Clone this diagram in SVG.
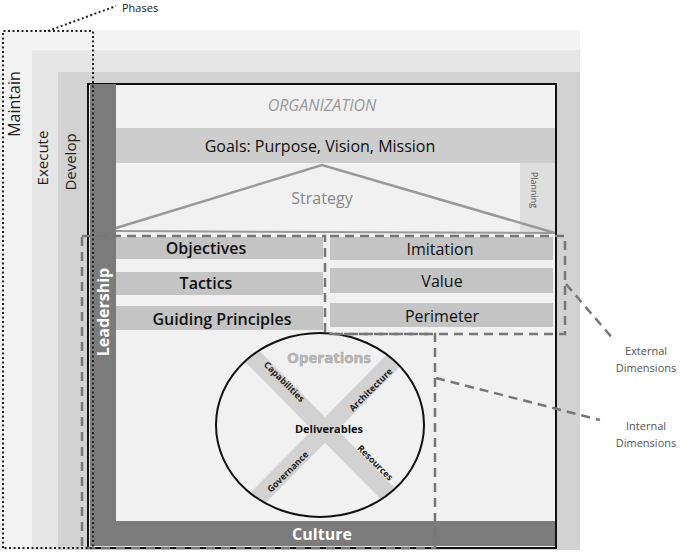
<svg xmlns="http://www.w3.org/2000/svg" width="685" height="552" viewBox="0 0 685 552">
<style>
text{font-family:"Open Sans","Noto Sans",sans-serif}
.box{fill:#c4c4c4}
.bt{font-size:16px;fill:#111;text-anchor:middle}
.dash{fill:none;stroke:#777;stroke-width:2.5;stroke-dasharray:9,6}
.op{font-size:9px;font-weight:bold;fill:#222;text-anchor:middle}
.side{font-size:11px;fill:#555;text-anchor:middle}
</style>
<defs><clipPath id="ec"><ellipse cx="320" cy="425" rx="103" ry="91"/></clipPath></defs>
<rect width="685" height="552" fill="#fff"/>
<g id="maintain"><rect x="0" y="30" width="580" height="520" fill="#f4f4f4"/><text transform="translate(20,104) rotate(-90)" font-size="16" text-anchor="middle" fill="#222">Maintain</text></g>
<g id="execute"><rect x="32" y="50" width="548" height="500" fill="#e6e6e6"/><text transform="translate(48,158) rotate(-90)" font-size="15" text-anchor="middle" fill="#222">Execute</text></g>
<g id="develop"><rect x="58" y="72" width="522" height="478" fill="#d2d2d2"/><text transform="translate(76,162) rotate(-90)" font-size="15" text-anchor="middle" fill="#222">Develop</text></g>
<g id="organization">
<rect x="88" y="84" width="468" height="464" fill="#f1f1f1" stroke="#111" stroke-width="2"/>
<text x="322" y="111" font-size="16" font-style="italic" fill="#999" text-anchor="middle">ORGANIZATION</text>
</g>
<g id="planning"><rect x="520" y="128" width="35" height="105" fill="#dedede"/><text transform="translate(531,190) rotate(90)" font-size="9" fill="#555" text-anchor="middle">Planning</text></g>
<g id="goals"><rect x="116" y="128" width="439" height="35" fill="#cdcdcd"/><text x="320" y="152" class="bt">Goals: Purpose, Vision, Mission</text></g>
<g id="strategy"><polyline points="116,228 322,165 555,233" fill="none" stroke="#999" stroke-width="2.5"/><line x1="116" y1="231" x2="555" y2="233" stroke="#999" stroke-width="2"/><text x="322" y="204" font-size="16" fill="#888" text-anchor="middle">Strategy</text></g>
<g id="leadership"><rect x="90" y="84" width="26" height="462" fill="#7b7b7b"/><text transform="translate(109,312) rotate(-90)" font-size="16" font-weight="bold" fill="#fff" text-anchor="middle">Leadership</text></g>
<g id="culture"><rect x="90" y="521" width="465" height="25" fill="#7b7b7b"/><text x="322" y="540" font-size="16" font-weight="bold" fill="#fff" text-anchor="middle">Culture</text></g>
<g id="objectives"><rect class="box" x="116" y="237" width="207" height="22"/><text x="206" y="254" class="bt" font-weight="600">Objectives</text></g>
<g id="tactics"><rect class="box" x="116" y="272" width="207" height="23"/><text x="206" y="289" class="bt" font-weight="600">Tactics</text></g>
<g id="guiding"><rect class="box" x="116" y="306" width="207" height="24"/><text x="222" y="325" class="bt" font-weight="600">Guiding Principles</text></g>
<g id="imitation"><rect class="box" x="330" y="237" width="223" height="23"/><text x="440" y="255" class="bt">Imitation</text></g>
<g id="value"><rect class="box" x="330" y="268" width="223" height="25"/><text x="442" y="287" class="bt">Value</text></g>
<g id="perimeter"><rect class="box" x="330" y="303" width="223" height="24"/><text x="442" y="322" class="bt">Perimeter</text></g>
<g id="operations">
<g clip-path="url(#ec)">
<line x1="248" y1="352" x2="402" y2="508" stroke="#d2d2d2" stroke-width="18"/>
<line x1="402" y1="352" x2="248" y2="508" stroke="#d2d2d2" stroke-width="18"/>
</g>
<ellipse cx="320" cy="425" rx="104" ry="92" fill="none" stroke="#111" stroke-width="2"/>
<text x="329" y="363" font-size="15" font-weight="bold" fill="#bbb" stroke="#999" stroke-width="0.4" text-anchor="middle">Operations</text>
<text x="329" y="433" font-size="11" font-weight="bold" fill="#111" text-anchor="middle">Deliverables</text>
<text transform="translate(282,384) rotate(45)" class="op">Capabilities</text>
<text transform="translate(373,392) rotate(-45)" class="op">Architecture</text>
<text transform="translate(290,474) rotate(-45)" class="op">Governance</text>
<text transform="translate(373,465) rotate(45)" class="op">Resources</text>
</g>
<g id="connectors">
<path class="dash" d="M330,236 H565 V334 H330"/>
<path class="dash" d="M82,236 H325 V334 H435 V548 H82 Z"/>
<line class="dash" x1="566" y1="284" x2="614" y2="340" stroke-width="2"/>
<line class="dash" x1="436" y1="378" x2="600" y2="420" stroke-width="2"/>
<path d="M3,548 V31 H93 V548 H3 M48,31 L116,6" fill="none" stroke="#222" stroke-width="2" stroke-dasharray="2,2.5"/>
</g>
<g id="labels">
<text x="122" y="12" font-size="11" fill="#222">Phases</text>
<text x="646" y="355" class="side">External</text>
<text x="646" y="372" class="side">Dimensions</text>
<text x="646" y="430" class="side">Internal</text>
<text x="646" y="447" class="side">Dimensions</text>
</g>
</svg>
